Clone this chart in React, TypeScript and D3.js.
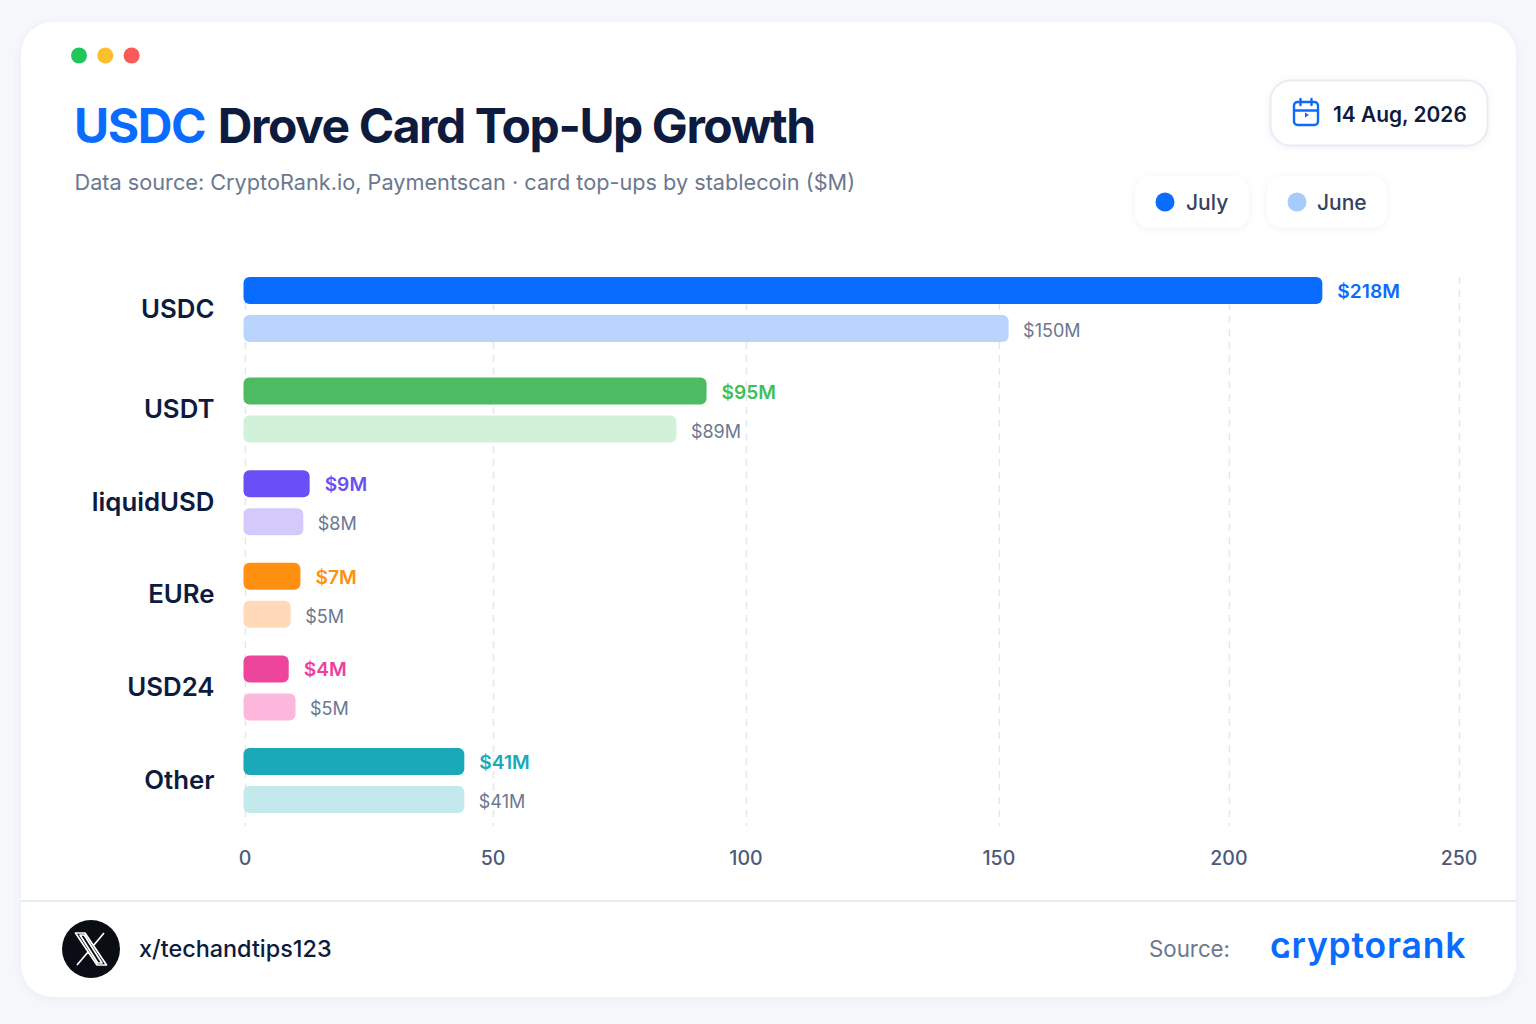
import * as d3 from "d3";

const categories = ["USDC", "USDT", "liquidUSD", "EURe", "USD24", "Other"];
const julyLabels = ["$218M", "$95M", "$9M", "$7M", "$4M", "$41M"];
const juneLabels = ["$150M", "$89M", "$8M", "$5M", "$5M", "$41M"];
// the picture is not drawn to scale, so lengths are read off against the axis separately from the labels
const julyLengths = [221.8, 95.2, 13.6, 11.7, 9.3, 45.4];
const juneLengths = [157.3, 89.0, 12.3, 9.7, 10.7, 45.4];
const julyColors = ["#0a6cff", "#4cbb62", "#6a4ff7", "#ff9010", "#ee459c", "#1aa9b8"];
const juneColors = ["#b9d4fd", "#d1f1d8", "#d3c9fb", "#ffd9b8", "#fdb7dc", "#c3e9ec"];
const julyTextColors = ["#0a6cff", "#3fbf5a", "#6a4ff7", "#ff9010", "#ee3f9c", "#1aa9b8"];
const tickLabels = ["0", "50", "100", "150", "200", "250"];
const tickPositions = [0.4, 51.4, 103.4, 155.4, 202.7, 250];

const font = "Inter, 'Noto Sans', sans-serif";
const ink = "#0d1b3e";
const muted = "#6b7890";

export default function App() {
  document.body.style.margin = "0";

  const x = d3.scaleLinear().domain([0, 250]).range([243.5, 1459.5]);
  const y = d3.scalePoint<string>().domain(categories).range([285, 748]);
  const barHeight = 27;
  const barGap = 11;
  const rowTop = (c: string) => (y(c) ?? 0) - (c === "USDC" ? 8 : 0);

  return (
    <svg
      width={1536}
      height={1024}
      viewBox="0 0 1536 1024"
      style={{ position: "absolute", left: 0, top: 0, fontFamily: font }}
    >
      <defs>
        <filter id="card" x="-5%" y="-5%" width="110%" height="110%">
          <feDropShadow dx="0" dy="2" stdDeviation="7" floodColor="#8a98b8" floodOpacity="0.13" />
        </filter>
        <filter id="pill" x="-20%" y="-30%" width="140%" height="160%">
          <feDropShadow dx="0" dy="1" stdDeviation="3" floodColor="#8a98b8" floodOpacity="0.14" />
        </filter>
      </defs>

      <rect width={1536} height={1024} fill="#f6f8fb" />
      <rect x={21} y={22} width={1495} height={975} rx={32} fill="#fff" filter="url(#card)" />

      {["#1fc75a", "#fcc02e", "#fb5a5a"].map((c, i) => (
        <circle key={c} cx={79 + i * 26.3} cy={55.5} r={8} fill={c} />
      ))}

      <text x={74} y={143} fontSize={48} fontWeight={700} fill={ink} letterSpacing={-1.45}>
        <tspan fill="#0a6cff">USDC</tspan>
        <tspan dx={3}> Drove Card Top-Up Growth</tspan>
      </text>
      <text x={74.5} y={190} fontSize={21.7} fill={muted}>
        Data source: CryptoRank.io, Paymentscan · card top-ups by stablecoin ($M)
      </text>

      <rect x={1270.5} y={80.5} width={217} height={65} rx={20} fill="#fff" stroke="#e8ecf3" strokeWidth={2} filter="url(#pill)" />
      <g fill="none" stroke="#0a6cff" strokeWidth={2.4} strokeLinecap="round">
        <rect x={1294} y={102} width={24} height={23} rx={3.5} />
        <path d="M1294 110.5H1318M1300.5 99V105M1311.5 99V105" />
      </g>
      <path d="M1305 112.5l4 2.5-4 2.5z" fill="#0a6cff" />
      <text x={1333} y={122} fontSize={20.9} fontWeight={600} fill={ink}>14 Aug, 2026</text>

      <rect x={1135} y={176} width={114} height={52} rx={15} fill="#fff" filter="url(#pill)" />
      <circle cx={1165} cy={202} r={9.5} fill="#0a6cff" />
      <text x={1186} y={210} fontSize={21} fontWeight={500} fill="#35425f">July</text>
      <rect x={1267} y={176} width={120} height={52} rx={15} fill="#fff" filter="url(#pill)" />
      <circle cx={1297} cy={202} r={9.5} fill="#a7cbfb" />
      <text x={1317} y={210} fontSize={21} fontWeight={500} fill="#35425f">June</text>

      {tickLabels.map((t, i) => (
        <g key={t}>
          <line
            x1={x(tickPositions[i])}
            x2={x(tickPositions[i])}
            y1={277}
            y2={826}
            stroke="#e3e7ef"
            strokeWidth={1.5}
            strokeDasharray="7 6"
          />
          <text x={x(tickPositions[i]) - 0.5} y={865} fontSize={19.5} fontWeight={500} textAnchor="middle" fill="#4b5a7c">
            {t}
          </text>
        </g>
      ))}

      {categories.map((c, i) => {
        const top = rowTop(c);
        const juneTop = top + barHeight + barGap;
        return (
          <g key={c}>
            <text x={214.5} y={top + barHeight + barGap / 2 + 8} fontSize={25.8} fontWeight={600} textAnchor="end" fill={ink}>
              {c}
            </text>
            <rect x={x(0)} y={top} width={x(julyLengths[i]) - x(0)} height={barHeight} rx={6} fill={julyColors[i]} />
            <rect x={x(0)} y={juneTop} width={x(juneLengths[i]) - x(0)} height={barHeight} rx={6} fill={juneColors[i]} />
            <text x={x(julyLengths[i]) + 15} y={top + barHeight / 2 + 7.5} fontSize={19.2} fontWeight={600} fill={julyTextColors[i]}>
              {julyLabels[i]}
            </text>
            <text x={x(juneLengths[i]) + 14.5} y={juneTop + barHeight / 2 + 8.5} fontSize={18} fill={muted}>
              {juneLabels[i]}
            </text>
          </g>
        );
      })}

      <line x1={21} x2={1516} y1={901} y2={901} stroke="#e8ebf1" strokeWidth={2} />

      <circle cx={91} cy={949} r={29} fill="#0a0d14" />
      <path
        d="M75.5 933H85L106.5 965H97ZM80 935L97.8 963H102L84.2 935ZM104 933L93.5 945.5M88.5 951.5L77 965"
        fill="none"
        stroke="#fff"
        strokeWidth={1.7}
        strokeLinejoin="round"
      />
      <text x={139} y={957} fontSize={23.4} fontWeight={500} fill={ink}>x/techandtips123</text>

      <text x={1149} y={957} fontSize={22.3} fill={muted}>Source:</text>
      <text x={1270} y={958} fontSize={35.5} fontWeight={600} fill="#0a6cff" letterSpacing={0.8}>cryptorank</text>
      <g fill="none" stroke="#0a6cff" strokeWidth={2.6} strokeLinecap="round" strokeLinejoin="round">
        <path d="M1282 956.5h5.5v-5" />
        <path d="M1412 956.5h5.5v-5" />
      </g>
    </svg>
  );
}
